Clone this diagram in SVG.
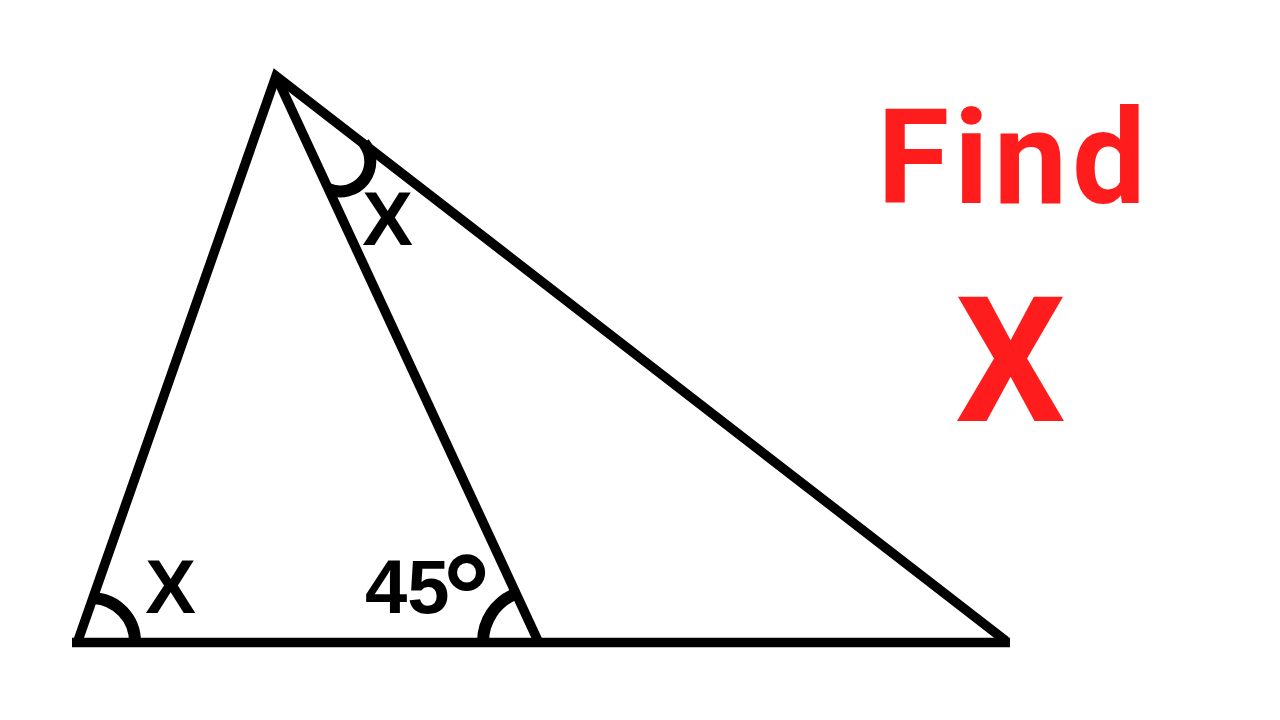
<svg xmlns="http://www.w3.org/2000/svg" width="1280" height="720" viewBox="0 0 1280 720">
<style>
.ln{fill:none;stroke:#000;stroke-width:9.5;stroke-linejoin:miter;stroke-linecap:butt}
.arc{fill:none;stroke:#000;stroke-width:12}
.lbl{font-family:"Liberation Sans",Arial,sans-serif;font-weight:bold;font-size:76px;fill:#000}
.red{font-family:Roboto,"Liberation Sans",sans-serif;font-weight:bold;fill:#FF1C1C;text-anchor:middle}
</style>
<rect width="1280" height="720" fill="#fff"/>
<g id="connectors">
<line class="ln" x1="72" y1="642.5" x2="1010" y2="642.5"/>
<polyline class="ln" points="77.5,642 276,76 1006,641"/>
<line class="ln" x1="276" y1="76" x2="538.5" y2="642"/>
</g>
<g id="angle-A">
<path class="arc" d="M93.4,598 A44,44 0 0 1 135,642"/>
<text class="lbl" x="170.5" y="613" text-anchor="middle">X</text>
</g>
<g id="angle-D">
<path class="arc" d="M483,642 A52,52 0 0 1 515,594"/>
<text class="lbl" y="613"><tspan x="365">45</tspan><tspan x="443" dy="24" font-size="118">°</tspan></text>
</g>
<g id="angle-apex">
<path class="arc" d="M364,143 A30,30 0 0 1 328.5,189"/>
<text class="lbl" x="387.5" y="245" text-anchor="middle">X</text>
</g>
<g id="title">
<text class="red" x="1014" y="203" font-size="131" letter-spacing="5">Find</text>
<text class="red" x="1010.5" y="421" font-size="174">X</text>
</g>
</svg>
